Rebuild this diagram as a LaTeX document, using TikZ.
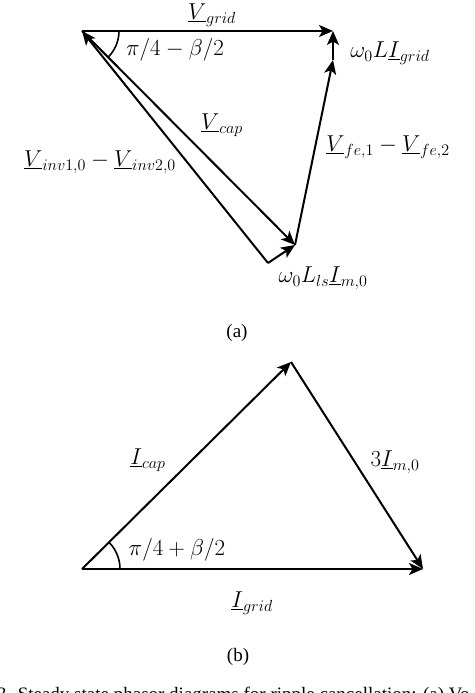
\RequirePackage{fix-cm}
\documentclass[tikz,border=0pt]{standalone}
\usepackage{fontspec}
\setmainfont{Liberation Serif}
\usetikzlibrary{arrows.meta}
\begin{document}
\begin{tikzpicture}[x=1pt,y=-1pt,
  vec/.style={line width=2pt,-{Stealth[length=14pt,width=12pt,inset=3.5pt]}},
  ang/.style={line width=1.6pt},
  lab/.style={font=\fontsize{23}{27}\selectfont,inner sep=0pt},
  sub/.style={font=\rmfamily\fontsize{19}{22}\selectfont,inner sep=0pt}]
\useasboundingbox (0,0) rectangle (474,693);
% ---- (a) ----
\coordinate (A) at (82,31);
\coordinate (T) at (333,31);
\coordinate (M) at (333,60);
\coordinate (P) at (295,245);
\coordinate (Q) at (268,263);
\draw[vec] (A) -- (T);
\draw[vec] (M) -- (T);
\draw[vec] (P) -- (M);
\draw[vec] (A) -- (P);
\draw[vec] (Q) -- (A);
\draw[vec] (Q) -- (P);
\draw[ang] ([xshift=37pt]A) arc[start angle=0,end angle=45,radius=37];
\node[lab] (lvgrid) at (212,15) {$\underline{V}_{grid}$};
\node[lab] (langa) at (175,50) {$\pi/4-\beta/2$};
\node[lab] (lwli) at (390,53) {$\omega_0 L\underline{I}_{grid}$};
\node[lab] (lvcap) at (222,125) {$\underline{V}_{cap}$};
\node[lab] (lvfe) at (388,147) {$\underline{V}_{fe,1}-\underline{V}_{fe,2}$};
\node[lab] (lvinv) at (100,162) {$\underline{V}_{inv1,0}-\underline{V}_{inv2,0}$};
\node[lab] (lwlls) at (323,278) {$\omega_0 L_{ls}\underline{I}_{m,0}$};
\node[sub] (cap a) at (237,333) {(a)};
% ---- (b) ----
\coordinate (B) at (82,569);
\coordinate (C) at (423,569);
\coordinate (D) at (291,362);
\draw[vec] (B) -- (C);
\draw[vec] (B) -- (D);
\draw[vec] (D) -- (C);
\draw[ang] ([xshift=38pt]B) arc[start angle=0,end angle=-44,radius=38];
\node[lab] (licap) at (148,460) {$\underline{I}_{cap}$};
\node[lab] (lim) at (395,462) {$3\underline{I}_{m,0}$};
\node[lab] (langb) at (177,550) {$\pi/4+\beta/2$};
\node[lab] (ligrid) at (252,603) {$\underline{I}_{grid}$};
\node[sub] (cap b) at (238,657) {(b)};
\node[sub,anchor=base west] (caption) at (-3,700) {3. Steady state phasor diagrams for ripple cancellation: (a) Vo};
\end{tikzpicture}
\end{document}
